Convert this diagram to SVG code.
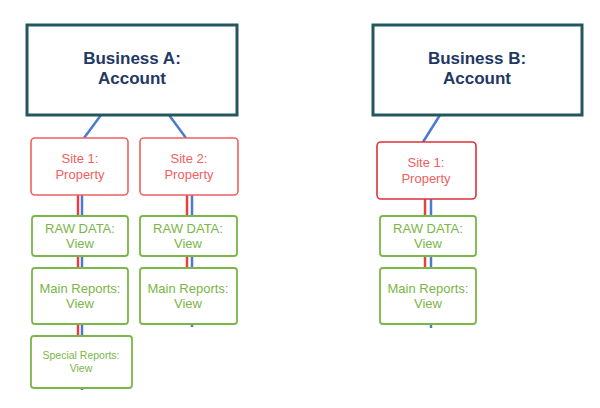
<svg xmlns="http://www.w3.org/2000/svg" width="600" height="408" viewBox="0 0 600 408">
<style>
.acct{fill:#fff;stroke:#23575f;stroke-width:3}
.site{fill:#fff;stroke:#f06060;stroke-width:1.6}
.view{fill:#fff;stroke:#7ab648;stroke-width:1.8}
.ta{font-family:"Liberation Sans",Arial,sans-serif;font-weight:bold;font-size:17px;fill:#1f3864;text-anchor:middle}
.ts{font-family:"Liberation Sans",Arial,sans-serif;font-size:13px;fill:#f06060;text-anchor:middle}
.tv{font-family:"Liberation Sans",Arial,sans-serif;font-size:13px;fill:#7ab648;text-anchor:middle}
.r{stroke:#e84040;stroke-width:2.5}
.b{stroke:#4a7bd0;stroke-width:2.5}
</style>
<g id="connectors">
<line class="b" x1="101" y1="115" x2="84" y2="138"/>
<line class="b" x1="169" y1="115" x2="186" y2="138"/>
<line class="b" x1="440" y1="115" x2="423" y2="142"/>
<line class="r" x1="78" y1="195" x2="78" y2="388"/>
<line class="b" x1="82" y1="195" x2="82" y2="390"/>
<line class="r" x1="187" y1="195" x2="187" y2="268"/>
<line class="b" x1="192" y1="195" x2="192" y2="327"/>
<line class="r" x1="425" y1="199" x2="425" y2="268"/>
<line class="b" x1="431" y1="199" x2="431" y2="328"/>
</g>
<g id="businessA"><rect class="acct" x="27" y="25" width="210" height="90"/><text class="ta" x="132" y="64">Business A:</text><text class="ta" x="132" y="84">Account</text></g>
<g id="businessB"><rect class="acct" x="373" y="25" width="209" height="90"/><text class="ta" x="477" y="64">Business B:</text><text class="ta" x="477" y="84">Account</text></g>
<g id="siteA1"><rect class="site" x="31" y="138" width="97" height="57" rx="4"/><text class="ts" x="80" y="163">Site 1:</text><text class="ts" x="80" y="179">Property</text></g>
<g id="siteA2"><rect class="site" x="140" y="138" width="98" height="57" rx="4"/><text class="ts" x="189" y="163">Site 2:</text><text class="ts" x="189" y="179">Property</text></g>
<g id="siteB1"><rect class="site" x="377" y="142" width="99" height="57" rx="4" style="stroke:#e0303a"/><text class="ts" x="426" y="167">Site 1:</text><text class="ts" x="426" y="183">Property</text></g>
<g id="rawA1"><rect class="view" x="32" y="216" width="96" height="40" rx="3"/><text class="tv" x="80" y="233">RAW DATA:</text><text class="tv" x="80" y="248">View</text></g>
<g id="rawA2"><rect class="view" x="140" y="216" width="97" height="40" rx="3"/><text class="tv" x="188" y="233">RAW DATA:</text><text class="tv" x="188" y="248">View</text></g>
<g id="mainA1"><rect class="view" x="32" y="268" width="96" height="56" rx="3"/><text class="tv" x="80" y="293">Main Reports:</text><text class="tv" x="80" y="308">View</text></g>
<g id="mainA2"><rect class="view" x="140" y="268" width="97" height="56" rx="3"/><text class="tv" x="188" y="293">Main Reports:</text><text class="tv" x="188" y="308">View</text></g>
<g id="specialA1"><rect class="view" x="31" y="336" width="101" height="52" rx="3"/><text class="tv" x="81" y="359" style="font-size:10.5px">Special Reports:</text><text class="tv" x="81" y="372" style="font-size:10.5px">View</text></g>
<g id="rawB1"><rect class="view" x="380" y="216" width="96" height="40" rx="3"/><text class="tv" x="428" y="233">RAW DATA:</text><text class="tv" x="428" y="248">View</text></g>
<g id="mainB1"><rect class="view" x="380" y="268" width="96" height="56" rx="3"/><text class="tv" x="428" y="293">Main Reports:</text><text class="tv" x="428" y="308">View</text></g>
</svg>
